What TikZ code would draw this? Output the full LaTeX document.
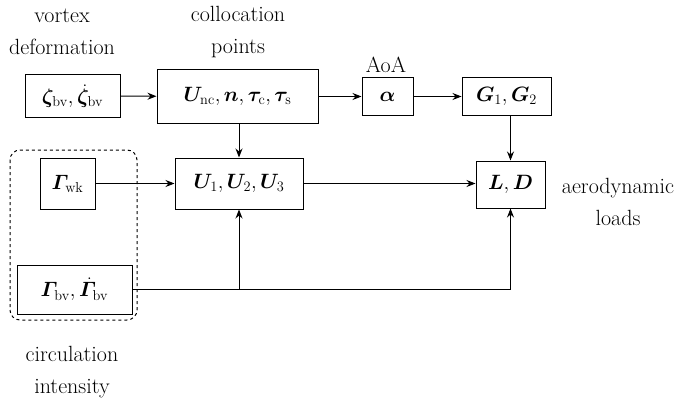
\documentclass[tikz,border=0pt]{standalone}
\usepackage{amsmath,bm}
\usetikzlibrary{arrows.meta}
\begin{document}
\begin{tikzpicture}[x=1pt,y=-1pt,
  box/.style={draw,line width=1pt,inner sep=0pt,minimum height=#1},
  lbl/.style={font=\fontsize{22}{32}\selectfont,align=center},
  m/.style={font=\fontsize{22}{26}\selectfont},
  arr/.style={line width=1pt,-{Stealth[length=9pt,width=7pt]}},
  ln/.style={line width=1pt}]
\useasboundingbox (0,0) rectangle (700,401);
\node[box=42,minimum width=95,m] (z) at (72.5,96) {$\bm{\zeta}_{\mathrm{bv}},\dot{\bm{\zeta}}_{\mathrm{bv}}$};
\node[box=53,minimum width=161,m] (u) at (237.5,96.5) {$\bm{U}_{\mathrm{nc}},\bm{n},\bm{\tau}_{\mathrm{c}},\bm{\tau}_{\mathrm{s}}$};
\node[box=37,minimum width=51,m] (a) at (387.5,96.5) {$\bm{\alpha}$};
\node[box=37,minimum width=89,m] (g) at (506.5,96.5) {$\bm{G}_1,\bm{G}_2$};
\node[box=51,minimum width=55,m] (w) at (67.5,183.5) {$\bm{\varGamma}_{\mathrm{wk}}$};
\node[box=51,minimum width=128,m] (u1) at (239,183.5) {$\bm{U}_1,\bm{U}_2,\bm{U}_3$};
\node[box=47,minimum width=69,m] (l) at (510.5,184.5) {$\bm{L},\bm{D}$};
\node[box=49,minimum width=115,m] (b) at (74.5,289.5) {$\bm{\varGamma}_{\mathrm{bv}},\dot{\bm{\varGamma}}_{\mathrm{bv}}$};
\draw[ln,dashed,rounded corners=10pt] (10,150) rectangle (137,320);
\node[lbl] (t1) at (62,32) {vortex\\deformation};
\node[lbl] (t2) at (238,32) {collocation\\points};
\node[lbl] (t3) at (386,65) {AoA};
\node[lbl] (t4) at (618,202) {aerodynamic\\loads};
\node[lbl] (t5) at (72,372) {circulation\\intensity};
\draw[arr] (z) -- (u);
\draw[arr] (u) -- (a);
\draw[arr] (a) -- (g);
\draw[arr] (l.north|-g.south) -- (l.north);
\draw[arr] (u1.north|-u.south) -- (u1.north);
\draw[arr] (w) -- (u1);
\draw[arr] (u1.east) -- (l.west|-u1.east);
\coordinate (j) at (u1.south|-b.east);
\draw[ln] (b.east) -- (l.south|-b.east);
\draw[arr] (l.south|-b.east) -- (l.south);
\draw[arr] (j) -- (u1.south);
\end{tikzpicture}
\end{document}
